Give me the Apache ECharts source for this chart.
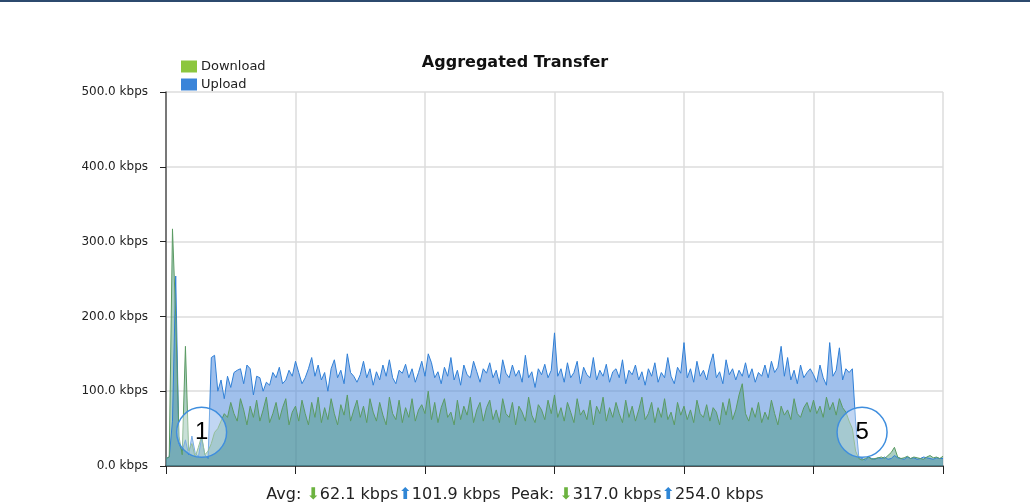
<!DOCTYPE html>
<html>
<head>
<meta charset="utf-8">
<script src="https://cdn.jsdelivr.net/npm/echarts@6/dist/echarts.min.js"></script>
<style>html,body{margin:0;padding:0;background:#fff}#chart{width:1030px;height:502px}</style>
</head>
<body>
<div id="chart"></div>
<script>
// Upload series (kbps)
var upload = [
    10,12,60,254,30,20,35,15,40,18,12,38,15,10,145,148,100,115,90,120,
    105,125,128,130,110,135,130,95,120,118,100,112,108,125,118,132,110,115,128,120,
    140,125,110,118,130,145,120,135,115,125,100,130,142,118,128,110,150,125,120,112,
    122,140,118,130,108,126,115,135,120,142,118,110,128,124,136,118,130,112,125,140,
    120,150,138,118,126,110,132,120,145,115,128,108,135,122,118,140,126,112,130,124,
    138,118,128,110,142,124,118,135,120,128,112,148,118,126,105,130,122,136,118,128,
    178,120,130,112,138,118,125,140,110,132,122,118,145,115,128,120,136,112,126,130,
    118,142,110,128,122,135,115,126,108,130,120,138,112,125,118,145,120,110,132,124,
    165,118,130,112,140,120,128,115,135,150,118,126,110,142,122,130,115,128,120,138,
    118,130,112,125,120,135,118,140,125,132,160,120,145,115,128,110,135,118,125,130,
    122,112,135,118,108,165,120,128,158,115,130,125,130,60,12,10,8,12,10,9,
    11,10,12,9,10,14,11,10,9,12,10,11,9,10,12,11,10,9,11,10,10
];
// Download series (kbps)
var download = [
    10,12,317,200,40,15,160,20,30,12,25,40,15,20,30,45,50,60,70,65,
    85,70,60,90,75,55,80,65,88,60,75,92,58,70,85,62,78,90,55,72,
    80,60,88,70,55,85,65,92,58,78,62,90,70,55,82,68,95,60,75,88,
    65,80,58,90,72,60,85,68,55,92,70,62,88,58,78,65,90,60,75,82,
    70,100,62,85,58,78,90,65,72,55,88,62,80,68,92,58,75,85,60,78,
    88,62,75,58,90,70,65,85,55,80,72,60,92,68,58,82,75,62,88,70,
    95,65,78,60,85,72,58,90,68,75,62,88,55,80,70,92,60,78,65,85,
    70,58,88,65,80,60,75,92,62,70,85,58,78,65,90,62,72,55,85,68,
    80,62,75,58,88,70,65,82,60,78,72,55,85,68,90,62,75,95,110,70,
    60,78,65,85,58,72,62,88,70,55,80,68,75,62,90,70,65,78,85,72,
    88,70,80,65,92,75,85,68,90,78,72,60,50,20,10,8,10,12,9,10,
    11,12,10,14,18,25,12,10,11,13,10,12,11,10,9,12,14,11,12,10,13
];
var categories = upload.map(function (v, i) { return i; });
var markers = [
    { name: '1', coord: [11, 45] },
    { name: '5', coord: [215, 45] }
];
var summary = { avgDown: '62.1 kbps', avgUp: '101.9 kbps', peakDown: '317.0 kbps', peakUp: '254.0 kbps' };

var myChart = echarts.init(document.getElementById('chart'));
var option = {
    animation: false,
    textStyle: { fontFamily: 'Verdana, DejaVu Sans, sans-serif' },
    graphic: [{ type: 'rect', shape: { x: 0, y: 0, width: 1030, height: 2 }, style: { fill: '#2c4a6e' } }],
    title: [{
        text: 'Aggregated Transfer',
        left: 'center', top: 50,
        textStyle: { fontSize: 16, fontWeight: 'bold', color: '#111', fontFamily: 'DejaVu Sans' }
    }, {
        text: 'Avg: {d|⬇}' + summary.avgDown + '{u|⬆}' + summary.avgUp +
              '  Peak: {d|⬇}' + summary.peakDown + '{u|⬆}' + summary.peakUp,
        left: 'center', bottom: -6,
        textStyle: {
            fontSize: 16, fontWeight: 'normal', color: '#222', fontFamily: 'DejaVu Sans',
            rich: { d: { color: '#6cb33f', fontSize: 16 }, u: { color: '#2f86d6', fontSize: 16 } }
        }
    }],
    legend: {
        orient: 'vertical', left: 176, top: 55, itemWidth: 16, itemHeight: 12, itemGap: 5,
        icon: 'rect',
        data: ['Download', 'Upload'],
        textStyle: { fontSize: 13, color: '#222', padding: [0, 0, 0, -1] }
    },
    grid: { left: 166, right: 87, top: 92, bottom: 36 },
    xAxis: {
        type: 'category', boundaryGap: false, data: categories,
        axisLine: { lineStyle: { color: '#222', width: 1.5 } },
        axisTick: { interval: 39, length: 8, lineStyle: { color: '#222' } },
        axisLabel: { show: false },
        splitLine: { show: true, interval: 39, lineStyle: { color: '#ddd', width: 1.5 } }
    },
    yAxis: {
        type: 'value', min: 0, max: 500, interval: 100,
        axisLine: { show: true, lineStyle: { color: '#555', width: 1.5 } },
        axisTick: { show: true, length: 6, lineStyle: { color: '#222' } },
        axisLabel: { formatter: function (v) { return v.toFixed(1) + ' kbps'; }, fontSize: 12, color: '#222', margin: 18 },
        splitLine: { lineStyle: { color: '#ddd', width: 1.5 } }
    },
    series: [{
        name: 'Upload', type: 'line', data: upload, symbol: 'none',
        lineStyle: { color: '#2f7fd6', width: 1 },
        itemStyle: { color: '#3a84d9' },
        areaStyle: { color: 'rgba(80,140,220,0.78)' },
        markPoint: {
            symbol: 'circle', symbolSize: 50,
            itemStyle: { color: 'rgba(255,255,255,0.35)', borderColor: '#3f8ede', borderWidth: 1.5 },
            label: { formatter: '{b}', color: '#000', fontSize: 24, fontFamily: 'Liberation Sans' },
            data: markers
        }
    }, {
        name: 'Download', type: 'line', data: download, symbol: 'none',
        lineStyle: { color: '#5a9a62', width: 1 },
        itemStyle: { color: '#8cc63e' },
        areaStyle: { color: 'rgba(65,145,115,0.62)' }
    }]
};
myChart.setOption(option);
</script>
</body>
</html>
